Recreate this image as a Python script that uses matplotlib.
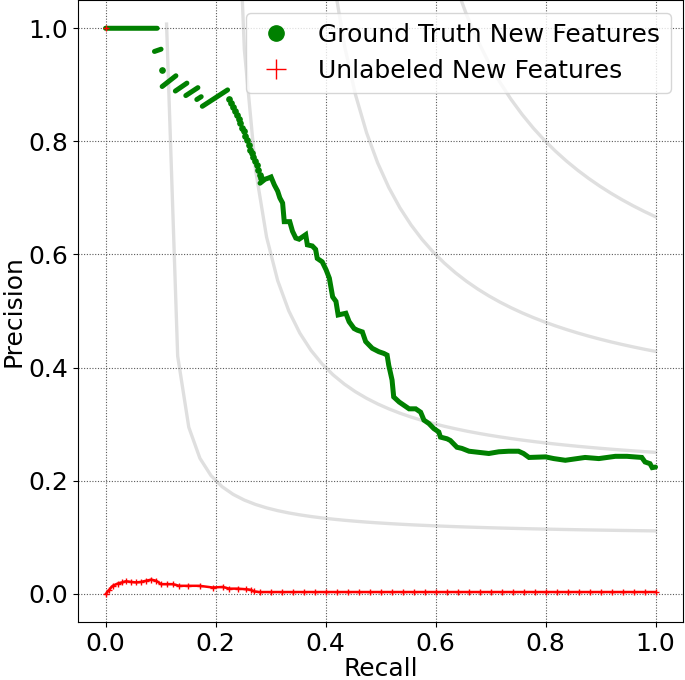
import numpy as np
import matplotlib
matplotlib.use("Agg")
import matplotlib.pyplot as plt
from matplotlib.lines import Line2D

nan = np.nan

# iso-F1 reference levels
iso_f1 = [0.2, 0.4, 0.6, 0.8]

# Ground truth new features: connected runs (nan separates runs)
gt_line_recall = [0.0, 0.094, nan,
                  0.089, 0.101, nan,
                  0.103, 0.128, nan,
                  0.127, 0.148, nan,
                  0.146, 0.168, nan,
                  0.166, 0.174, nan,
                  0.176, 0.222, nan,
                  0.281, 0.290, 0.296, 0.301, 0.307, 0.313, 0.317, 0.322, 0.325, 0.335,
                  0.340, 0.346, 0.352, 0.364, 0.367, 0.376, 0.382, 0.385, 0.394, 0.401,
                  0.407, 0.413, 0.419, 0.423, 0.437, 0.443, 0.452, 0.458, 0.467, 0.473,
                  0.485, 0.497, 0.506, 0.512, 0.515, 0.521, 0.524, 0.534, 0.543, 0.552,
                  0.564, 0.573, 0.579, 0.588, 0.597, 0.606, 0.609, 0.621, 0.627, 0.633,
                  0.639, 0.648, 0.661, 0.679, 0.697, 0.715, 0.733, 0.751, 0.760, 0.770,
                  0.800, 0.815, 0.836, 0.872, 0.897, 0.927, 0.948, 0.975, 0.981, 0.990,
                  0.994, 1.0]
gt_line_precision = [1.0, 1.0, nan,
                     0.959, 0.963, nan,
                     0.897, 0.916, nan,
                     0.889, 0.903, nan,
                     0.881, 0.895, nan,
                     0.874, 0.879, nan,
                     0.862, 0.891, nan,
                     0.726, 0.733, 0.735, 0.737, 0.723, 0.712, 0.700, 0.691, 0.658, 0.658,
                     0.641, 0.629, 0.627, 0.635, 0.617, 0.615, 0.609, 0.593, 0.587, 0.573,
                     0.558, 0.525, 0.517, 0.493, 0.496, 0.481, 0.469, 0.466, 0.463, 0.446,
                     0.434, 0.428, 0.425, 0.422, 0.404, 0.378, 0.348, 0.339, 0.333, 0.327,
                     0.327, 0.321, 0.307, 0.301, 0.292, 0.286, 0.277, 0.274, 0.271, 0.265,
                     0.259, 0.257, 0.252, 0.250, 0.248, 0.251, 0.252, 0.252, 0.248, 0.241,
                     0.242, 0.239, 0.236, 0.241, 0.239, 0.243, 0.243, 0.241, 0.233, 0.230,
                     0.223, 0.224]

# Ground truth new features: isolated points
gt_dot_recall = [0.102, 0.225, 0.228, 0.232, 0.236, 0.239, 0.242, 0.245, 0.248, 0.251,
                 0.254, 0.257, 0.260, 0.262, 0.266, 0.269, 0.272, 0.275, 0.278, 0.281,
                 0.283]
gt_dot_precision = [0.927, 0.875, 0.868, 0.861, 0.853, 0.846, 0.839, 0.832, 0.824, 0.818,
                    0.809, 0.802, 0.794, 0.785, 0.780, 0.772, 0.765, 0.758, 0.750, 0.741,
                    0.735]

# Unlabeled new features
un_start_recall = [0.0]
un_start_precision = [1.0]
un_recall = [0.001, 0.006, 0.013, 0.022, 0.030, 0.037, 0.046, 0.056, 0.065, 0.074,
             0.083, 0.092, 0.101, 0.112, 0.122, 0.134, 0.150, 0.171, 0.195, 0.213,
             0.225, 0.240, 0.255, 0.264, 0.270, 0.28, 0.30, 0.32, 0.34, 0.36,
             0.38, 0.40, 0.42, 0.44, 0.46, 0.48, 0.50, 0.52, 0.54, 0.56,
             0.58, 0.60, 0.62, 0.64, 0.66, 0.68, 0.70, 0.72, 0.74, 0.76,
             0.78, 0.80, 0.82, 0.84, 0.86, 0.88, 0.90, 0.92, 0.94, 0.96,
             0.98, 1.0]
un_precision = [0.0, 0.006, 0.014, 0.018, 0.020, 0.022, 0.021, 0.020, 0.021, 0.023,
                0.025, 0.023, 0.017, 0.017, 0.017, 0.014, 0.014, 0.014, 0.011, 0.012,
                0.009, 0.009, 0.008, 0.007, 0.004, 0.003, 0.003, 0.003, 0.003, 0.003,
                0.003, 0.003, 0.003, 0.003, 0.003, 0.003, 0.003, 0.003, 0.003, 0.003,
                0.003, 0.003, 0.003, 0.003, 0.003, 0.003, 0.003, 0.003, 0.003, 0.003,
                0.003, 0.003, 0.003, 0.003, 0.003, 0.003, 0.003, 0.003, 0.003, 0.003,
                0.003, 0.003]

labels = ["Ground Truth New Features", "Unlabeled New Features"]
ticks = [0.0, 0.2, 0.4, 0.6, 0.8, 1.0]

FS = 18
fig = plt.figure(figsize=(6.85, 6.8), dpi=100)
ax = fig.add_axes([78 / 685, 58 / 680, 605 / 685, 622 / 680])

for f in iso_f1:
    x = np.linspace(0.01, 1, 50)
    y = f * x / (2 * x - f)
    ax.plot(x[y >= 0], y[y >= 0], color="gray", alpha=0.25, lw=2.4, zorder=1)

ax.plot(gt_line_recall, gt_line_precision, color="green", lw=3.6,
        solid_capstyle="round", solid_joinstyle="miter", zorder=3)
ax.plot(gt_dot_recall, gt_dot_precision, ls="none", marker="o", ms=3.8,
        color="green", zorder=3)

ax.plot(un_recall, un_precision, color="red", lw=1.8, marker="+", ms=5,
        mew=1.0, zorder=4)
ax.plot(un_start_recall, un_start_precision, ls="none", marker="+", ms=5,
        mew=1.0, color="red", zorder=4)

ax.set_xlim(-0.05, 1.05)
ax.set_ylim(-0.05, 1.05)
ax.set_xticks(ticks)
ax.set_yticks(ticks)
ax.set_xticklabels([f"{t:.1f}" for t in ticks])
ax.set_yticklabels([f"{t:.1f}" for t in ticks])
ax.tick_params(labelsize=FS)
ax.grid(True, linestyle=(0, (1, 1.5)), color="0.35", linewidth=0.8, zorder=0)
ax.set_axisbelow(True)
ax.set_xlabel("Recall", fontsize=FS, labelpad=1)
ax.set_ylabel("Precision", fontsize=FS, labelpad=2)

handles = [Line2D([], [], ls="none", marker="o", ms=11, color="green"),
           Line2D([], [], ls="none", marker="+", ms=15, mew=1.0, color="red")]
ax.legend(handles, labels, loc="upper right", fontsize=FS,
          handlelength=1.6, handletextpad=0.9)

fig.savefig("out.png", dpi=100)
